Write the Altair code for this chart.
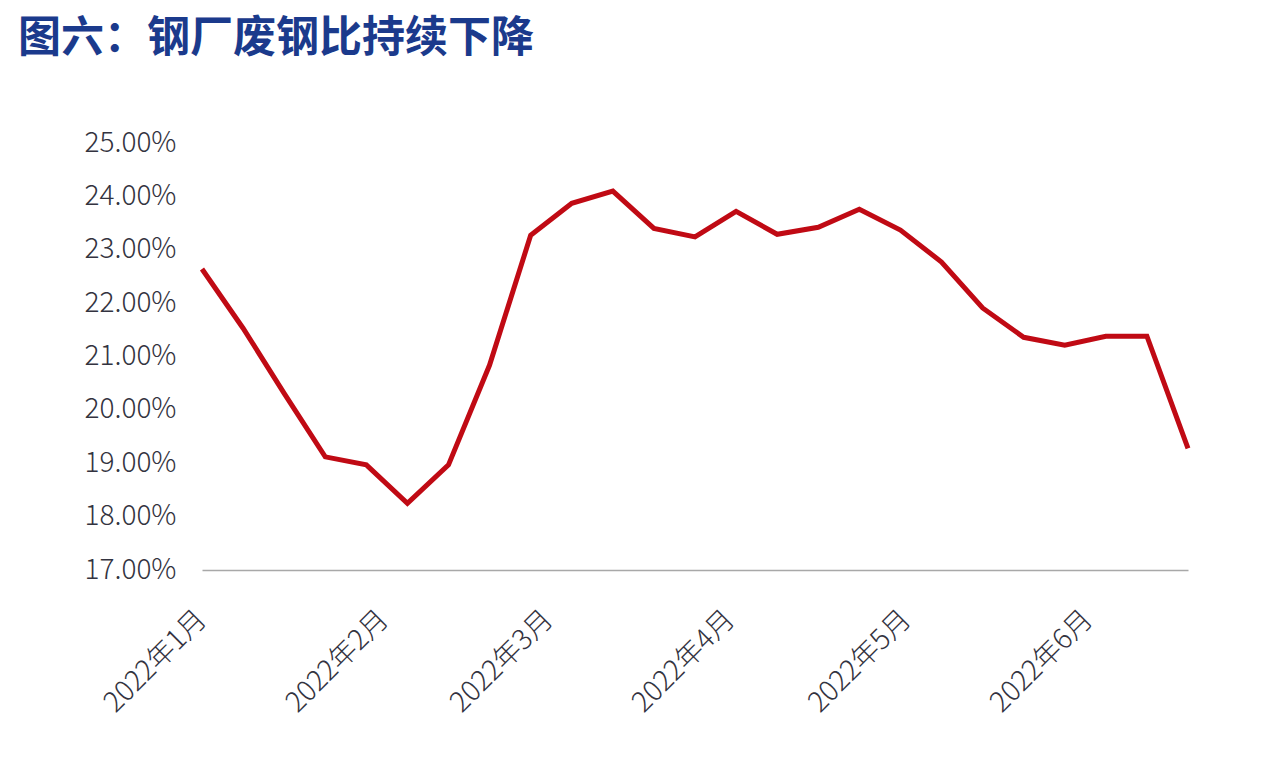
import altair as alt
import pandas as pd

dates = pd.date_range("2022-01-07", periods=25, freq="7D").strftime("%Y-%m-%d").tolist()
ratio = [22.64, 21.53, 20.31, 19.12, 18.97, 18.25, 18.97, 20.84, 23.27, 23.87,
         24.10, 23.40, 23.24, 23.72, 23.29, 23.42, 23.76, 23.37, 22.77, 21.91,
         21.36, 21.21, 21.38, 21.38, 19.28]
y_ticks = [17, 18, 19, 20, 21, 22, 23, 24, 25]
x_ticks = [(2022, m, 7) for m in range(1, 7)]

df = pd.DataFrame({"date": dates, "ratio": ratio})

line = alt.Chart(df).mark_line(color="#c00a14", strokeWidth=5, strokeJoin="miter").encode(
    x=alt.X(
        "date:T",
        scale=alt.Scale(type="utc", domain=[alt.DateTime(year=2022, month=1, date=7, utc=True),
                                            alt.DateTime(year=2022, month=6, date=24, utc=True)], nice=False),
        axis=alt.Axis(
            title=None,
            values=[alt.DateTime(year=y, month=m, date=d, utc=True) for y, m, d in x_ticks],
            format="%Y年%-m月",
            labelAngle=-45,
            labelAlign="right",
            labelBaseline="middle",
            labelPadding=45,
            labelFont="Noto Sans CJK SC",
            labelFontSize=28,
            labelFontWeight=300,
            labelColor="#333340",
            labelOverlap=False,
            labelBound=False,
            labelFlush=False,
            ticks=False,
            grid=False,
            domainColor="#a8a8a8",
            domainWidth=1.5,
        ),
    ),
    y=alt.Y(
        "ratio:Q",
        scale=alt.Scale(domain=[17, 25], nice=False, zero=False),
        axis=alt.Axis(
            title=None,
            values=y_ticks,
            labelExpr="format(datum.value, '.2f') + '%'",
            labelFont="Noto Sans CJK SC",
            labelFontSize=28,
            labelFontWeight=300,
            labelColor="#333340",
            labelPadding=26,
            ticks=False,
            grid=False,
            domain=False,
        ),
    ),
)

chart = line.properties(
    width=986,
    height=427,
    title=alt.TitleParams(
        text="图六：钢厂废钢比持续下降",
        anchor="start",
        frame="group",
        dx=-184,
        offset=68,
        font="Noto Sans CJK SC",
        fontSize=43,
        fontWeight="bold",
        color="#1b3a8c",
    ),
    autosize=alt.AutoSizeParams(type="none"),
    padding={"left": 202, "top": 143, "right": 78, "bottom": 196},
    background="white",
).configure_view(stroke=None)

chart.save("out.html", embed_options={"renderer": "svg", "actions": False})
